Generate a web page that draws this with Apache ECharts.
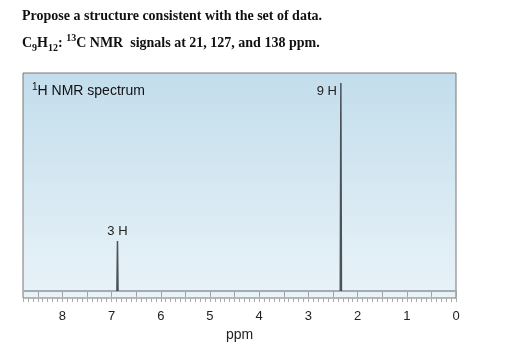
<!DOCTYPE html>
<html>
<head>
<meta charset="utf-8">
<script src="https://cdn.jsdelivr.net/npm/echarts@6/dist/echarts.min.js"></script>
<style>
html,body{margin:0;padding:0;background:#fff;}
#c{width:511px;height:356px;}
</style>
</head>
<body>
<div id="c"></div>
<script>
// ---- data ----
var peakPpm = [6.88, 2.34];
var peakHeight = [24, 100];
var peakLabels = ['3 H', '9 H'];
var tickLabels = [0, 1, 2, 3, 4, 5, 6, 7, 8];
var ppmMin = 0, ppmMax = 8.8;

var majorTicks = [];
for (var i = 0; i <= 17; i++) majorTicks.push(i * 0.5);

var peakData = [];
peakPpm.forEach(function (p, i) {
  peakData.push([p + 0.012, 0]);
  var item = { value: [p, peakHeight[i]], label: { show: true, formatter: peakLabels[i] } };
  if (i === 0) { item.label.position = 'top'; item.label.distance = 3; }
  else { item.label.position = 'left'; item.label.distance = 4; item.label.offset = [0, 8]; }
  peakData.push(item);
  peakData.push([p - 0.012, 0]);
  peakData.push('-');
});

var chart = echarts.init(document.getElementById('c'), null, { renderer: 'canvas' });
chart.setOption({
  animation: false,
  title: [{
    left: 22, top: 9, padding: 0,
    text: 'Propose a structure consistent with the set of data.',
    textStyle: { fontFamily: 'Liberation Serif', fontWeight: 'bold', fontSize: 14, color: '#111' }
  }, {
    left: 22, top: 33, padding: 0,
    text: '{b|C}{sub|9}{b|H}{sub|12}{b|: }{sup|13}{b|C NMR  signals at 21, 127, and 138 ppm.}',
    textStyle: {
      rich: {
        b: { fontFamily: 'Liberation Serif', fontWeight: 'bold', fontSize: 14, color: '#111', lineHeight: 20, verticalAlign: 'middle' },
        sub: { fontFamily: 'Liberation Serif', fontWeight: 'bold', fontSize: 10, color: '#111', lineHeight: 20, verticalAlign: 'bottom' },
        sup: { fontFamily: 'Liberation Serif', fontWeight: 'bold', fontSize: 10, color: '#111', lineHeight: 20, verticalAlign: 'top' }
      }
    }
  }, {
    left: 32, top: 82, padding: 0,
    text: '{sup|1}{t|H NMR spectrum}',
    textStyle: {
      fontWeight: 'normal',
      rich: {
        t: { fontFamily: 'Liberation Sans', fontWeight: 'normal', fontSize: 14, color: '#111', lineHeight: 18, verticalAlign: 'middle' },
        sup: { fontFamily: 'Liberation Sans', fontWeight: 'normal', fontSize: 10, color: '#111', lineHeight: 18, verticalAlign: 'top' }
      }
    }
  }],
  grid: {
    left: 23, right: 55, top: 73, bottom: 58,
    show: true,
    borderColor: '#777',
    borderWidth: 1,
    backgroundColor: new echarts.graphic.LinearGradient(0, 0, 0, 1, [
      { offset: 0, color: '#c3ddec' },
      { offset: 1, color: '#e9f3f8' }
    ])
  },
  xAxis: [{
    type: 'value', inverse: true, min: ppmMin, max: ppmMax,
    name: 'ppm', nameLocation: 'middle', nameGap: 28,
    nameTextStyle: { fontFamily: 'Liberation Sans', fontSize: 14, color: '#222' },
    axisLine: { show: true, lineStyle: { color: '#a8adb0', width: 1 } },
    axisTick: { show: true, customValues: majorTicks, length: 6, lineStyle: { color: '#a0a4a8' } },
    axisLabel: { show: true, customValues: tickLabels, margin: 12,
      fontFamily: 'Liberation Sans', fontSize: 13, color: '#222' },
    splitLine: { show: false }
  }, {
    type: 'value', inverse: true, min: ppmMin, max: ppmMax, interval: 0.1,
    position: 'bottom',
    axisLine: { show: false },
    axisTick: { show: true, length: 4, lineStyle: { color: '#a8adb0' } },
    axisLabel: { show: false },
    splitLine: { show: false }
  }],
  yAxis: { type: 'value', min: -3.4, max: 104.8, show: false },
  series: [{
    type: 'line', xAxisIndex: 0, symbol: 'none', silent: true,
    data: [[ppmMax, 0], [ppmMin, 0]],
    lineStyle: { color: '#a2acb1', width: 2 }
  }, {
    type: 'line', xAxisIndex: 0, symbol: 'circle', symbolSize: 0, showSymbol: true, silent: true,
    connectNulls: false,
    data: peakData,
    itemStyle: { color: '#4b5258' },
    lineStyle: { color: '#4b5258', width: 1.5 },
    label: { fontFamily: 'Liberation Sans', fontSize: 13, color: '#222' }
  }]
});
</script>
</body>
</html>
